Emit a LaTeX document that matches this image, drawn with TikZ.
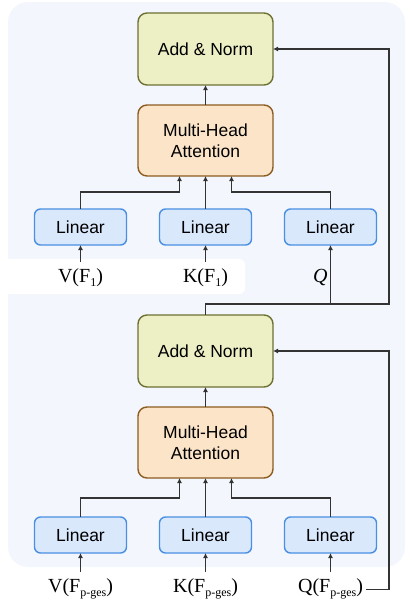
\documentclass[tikz,border=0pt]{standalone}
\usepackage{fontspec}
\setmainfont{Liberation Serif}
\setsansfont{Liberation Sans}
\usepackage{xcolor}
\usepackage{tikz}
\usetikzlibrary{positioning}
\usetikzlibrary{arrows.meta}

\definecolor{bgblue}{RGB}{243,246,252}
\definecolor{addfill}{RGB}{237,240,196}
\definecolor{adddraw}{RGB}{110,112,52}
\definecolor{mhafill}{RGB}{252,228,200}
\definecolor{mhadraw}{RGB}{140,92,34}
\definecolor{linfill}{RGB}{218,232,252}
\definecolor{lindraw}{RGB}{74,144,226}
\definecolor{wire}{RGB}{51,51,51}

\newcommand{\lowsub}[1]{\raisebox{-4pt}{\fontsize{12}{12}\selectfont #1}}

\begin{document}
\begin{tikzpicture}[x=1pt,y=1pt,
        block/.style={rounded corners=9pt,line width=1.4pt,align=center,
            font=\sffamily\fontsize{17.5}{21}\selectfont,inner sep=0pt,outer sep=0pt},
        addnorm/.style={block,fill=addfill,draw=adddraw,minimum width=135pt,minimum height=72pt},
        mha/.style={block,fill=mhafill,draw=mhadraw,minimum width=135pt,minimum height=71pt},
        linbox/.style={block,rounded corners=6pt,fill=linfill,draw=lindraw,minimum width=92pt,minimum height=36pt},
        inlabel/.style={font=\fontsize{20}{22}\selectfont,inner xsep=2pt,inner ysep=7pt,outer sep=0pt},
        conn/.style={draw=wire,line width=1.3pt,-{Latex[length=5pt,width=5pt]}}]
        \useasboundingbox (0,0) rectangle (415,-606);
        \fill[bgblue,rounded corners=20pt] (8,-2) rectangle (405,-567);
        \fill[white,rounded corners=6pt] (-6,-259) rectangle (245,-294);

        \node[addnorm] at (205.5,-49) (add1) {Add \& Norm};
        \node[mha,below=20pt of add1] (mha1) {Multi-Head\\Attention};
        \node[linbox,below=33pt of mha1] (linK1) {Linear};
        \node[linbox,left=33pt of linK1] (linV1) {Linear};
        \node[linbox,right=33pt of linK1] (linQ1) {Linear};

        \node[inlabel,below=17pt of linV1,anchor=north] (vin1) {V(F\lowsub{1})};
        \node[inlabel,below=17pt of linK1,anchor=north] (kin1) {K(F\lowsub{1})};
        \node[inlabel,anchor=north east,inner xsep=1pt] at ([xshift=-2pt,yshift=-17pt]linQ1.south) (qin1) {\textit{Q}};

        \node[addnorm,below=70pt of linK1] (add2) {Add \& Norm};
        \node[mha,below=20pt of add2] (mha2) {Multi-Head\\Attention};
        \node[linbox,below=39pt of mha2] (linK2) {Linear};
        \node[linbox,left=33pt of linK2] (linV2) {Linear};
        \node[linbox,right=33pt of linK2] (linQ2) {Linear};

        \node[inlabel,below=19pt of linV2,anchor=north] (vin2) {V(F\lowsub{p-ges})};
        \node[inlabel,below=19pt of linK2,anchor=north] (kin2) {K(F\lowsub{p-ges})};
        \node[inlabel,below=19pt of linQ2,anchor=north,inner xsep=3pt] (qin2) {Q(F\lowsub{p-ges})};

        \coordinate (tap) at ([yshift=11pt]add2.north);
        \coordinate (rail1) at ([xshift=116pt]add1.east);
        \coordinate (rail2) at ([xshift=116pt]add2.east);

        \draw[conn] (mha1) -- (add1);
        \draw[conn] (linK1) -- (mha1);
        \draw[conn] (linV1.north) -- ++(0,17) -| ([xshift=-26pt]mha1.south);
        \draw[conn] (linQ1.north) -- ++(0,17) -| ([xshift=26pt]mha1.south);
        \draw[conn] (vin1.north) -- (linV1.south);
        \draw[conn] (kin1.north) -- (linK1.south);

        \draw[conn] (add2.north) -- (tap) -| (linQ1.south);
        \draw[conn] (tap) -| (rail1) -- (add1.east);

        \draw[conn] (mha2) -- (add2);
        \draw[conn] (linK2) -- (mha2);
        \draw[conn] (linV2.north) -- ++(0,19) -| ([xshift=-26pt]mha2.south);
        \draw[conn] (linQ2.north) -- ++(0,19) -| ([xshift=26pt]mha2.south);
        \draw[conn] (vin2.north) -- (linV2.south);
        \draw[conn] (kin2.north) -- (linK2.south);
        \draw[conn] (qin2.north) -- (linQ2.south);
        \draw[conn] (qin2.east) -| (rail2) -- (add2.east);
\end{tikzpicture}
\end{document}
